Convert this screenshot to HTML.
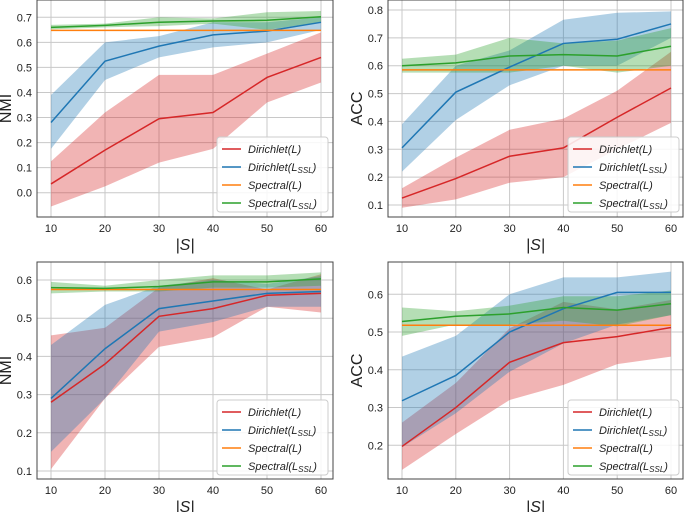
<!DOCTYPE html>
<html><head><meta charset="utf-8"><style>
body{margin:0;background:#fff;}
svg{display:block;font-family:"Liberation Sans","DejaVu Sans",sans-serif;}
</style></head><body>
<svg id="fig" width="685" height="512" viewBox="0 0 685 512" xmlns="http://www.w3.org/2000/svg"></svg>
<script>
const xs=[10,20,30,40,50,60];
// Panel 1 (NMI top)
const p1DirL=[0.035,0.17,0.295,0.32,0.46,0.54], p1DirLlo=[-0.055,0.025,0.12,0.175,0.36,0.44], p1DirLhi=[0.125,0.32,0.47,0.47,0.555,0.64];
const p1DirS=[0.28,0.525,0.585,0.63,0.645,0.68], p1DirSlo=[0.175,0.45,0.54,0.58,0.6,0.65], p1DirShi=[0.39,0.6,0.625,0.68,0.68,0.70];
const p1SpL=[0.648,0.648,0.648,0.648,0.648,0.648];
const p1SpS=[0.66,0.668,0.68,0.685,0.688,0.702], p1SpSlo=[0.652,0.66,0.665,0.675,0.65,0.68], p1SpShi=[0.67,0.675,0.70,0.695,0.72,0.725];
// Panel 2 (ACC top)
const p2DirL=[0.125,0.195,0.275,0.305,0.415,0.52], p2DirLlo=[0.09,0.12,0.18,0.2,0.3,0.395], p2DirLhi=[0.16,0.27,0.37,0.41,0.51,0.65];
const p2DirS=[0.305,0.505,0.595,0.68,0.695,0.75], p2DirSlo=[0.22,0.405,0.53,0.6,0.6,0.7], p2DirShi=[0.39,0.6,0.655,0.765,0.79,0.795];
const p2SpL=[0.585,0.585,0.585,0.585,0.585,0.585];
const p2SpS=[0.6,0.61,0.635,0.64,0.635,0.67], p2SpSlo=[0.575,0.575,0.575,0.6,0.575,0.6], p2SpShi=[0.625,0.64,0.7,0.68,0.69,0.735];
// Panel 3 (NMI bottom)
const p3DirL=[0.28,0.38,0.505,0.525,0.56,0.565], p3DirLlo=[0.105,0.29,0.425,0.45,0.53,0.515], p3DirLhi=[0.455,0.475,0.58,0.605,0.575,0.615];
const p3DirS=[0.29,0.42,0.525,0.545,0.565,0.57], p3DirSlo=[0.15,0.29,0.465,0.49,0.53,0.53], p3DirShi=[0.43,0.535,0.585,0.6,0.59,0.61];
const p3SpL=[0.575,0.575,0.575,0.575,0.575,0.575];
const p3SpS=[0.58,0.578,0.583,0.595,0.595,0.603], p3SpSlo=[0.565,0.57,0.57,0.58,0.58,0.585], p3SpShi=[0.595,0.585,0.6,0.612,0.612,0.62];
// Panel 4 (ACC bottom)
const p4DirL=[0.197,0.30,0.42,0.472,0.488,0.512], p4DirLlo=[0.135,0.23,0.32,0.36,0.415,0.435], p4DirLhi=[0.26,0.365,0.51,0.58,0.56,0.585];
const p4DirS=[0.318,0.385,0.50,0.562,0.605,0.605], p4DirSlo=[0.195,0.285,0.395,0.47,0.52,0.545], p4DirShi=[0.435,0.49,0.6,0.645,0.645,0.66];
const p4SpL=[0.518,0.518,0.518,0.518,0.518,0.518];
const p4SpS=[0.528,0.542,0.548,0.565,0.558,0.575], p4SpSlo=[0.49,0.52,0.52,0.53,0.515,0.545], p4SpShi=[0.565,0.555,0.57,0.595,0.595,0.61];
const p1Ticks=[0.0,0.1,0.2,0.3,0.4,0.5,0.6,0.7];
const p2Ticks=[0.1,0.2,0.3,0.4,0.5,0.6,0.7,0.8];
const p3Ticks=[0.1,0.2,0.3,0.4,0.5,0.6];
const p4Ticks=[0.2,0.3,0.4,0.5,0.6];
const xTicks=[10,20,30,40,50,60];

const NS="http://www.w3.org/2000/svg";
const svg=document.getElementById('fig');
function mk(tag,attrs,parent){const e=document.createElementNS(NS,tag);for(const k in attrs)e.setAttribute(k,attrs[k]);(parent||svg).appendChild(e);return e;}
const C={red:'#d62728',blue:'#1f77b4',orange:'#ff7f0e',green:'#2ca02c'};

const panels=[
 {id:'nmi-top',L:37,R:333,T:0,B:217,x10:51,x60:321,yv1:0.7,yp1:17.3,yv2:0.0,yp2:192.7,ticks:p1Ticks,lab:'NMI',
  s:[[p1DirL,p1DirLlo,p1DirLhi,'red'],[p1DirS,p1DirSlo,p1DirShi,'blue'],[p1SpL,null,null,'orange'],[p1SpS,p1SpSlo,p1SpShi,'green']],leg:[217,137]},
 {id:'acc-top',L:388,R:683,T:0,B:217,x10:402,x60:671,yv1:0.8,yp1:10,yv2:0.1,yp2:205,ticks:p2Ticks,lab:'ACC',
  s:[[p2DirL,p2DirLlo,p2DirLhi,'red'],[p2DirS,p2DirSlo,p2DirShi,'blue'],[p2SpL,null,null,'orange'],[p2SpS,p2SpSlo,p2SpShi,'green']],leg:[568,137]},
 {id:'nmi-bottom',L:37,R:333,T:262,B:479,x10:51,x60:321,yv1:0.6,yp1:280,yv2:0.1,yp2:471,ticks:p3Ticks,lab:'NMI',
  s:[[p3DirL,p3DirLlo,p3DirLhi,'red'],[p3DirS,p3DirSlo,p3DirShi,'blue'],[p3SpL,null,null,'orange'],[p3SpS,p3SpSlo,p3SpShi,'green']],leg:[217,400]},
 {id:'acc-bottom',L:388,R:683,T:262,B:479,x10:402,x60:671,yv1:0.6,yp1:294.3,yv2:0.2,yp2:445.3,ticks:p4Ticks,lab:'ACC',
  s:[[p4DirL,p4DirLlo,p4DirLhi,'red'],[p4DirS,p4DirSlo,p4DirShi,'blue'],[p4SpL,null,null,'orange'],[p4SpS,p4SpSlo,p4SpShi,'green']],leg:[568,400]}
];
const names=['dirichlet-l','dirichlet-lssl','spectral-l','spectral-lssl'];

panels.forEach(p=>{
  const g=mk('g',{});
  
  
  const X=v=>p.x10+(v-10)*(p.x60-p.x10)/50;
  const Y=v=>p.yp2+(v-p.yv2)*(p.yp1-p.yp2)/(p.yv1-p.yv2);
  const cp=mk('clipPath',{id:'cl-'+p.id},g);mk('rect',{x:p.L,y:p.T,width:p.R-p.L,height:p.B-p.T},cp);
  // grid
  xTicks.forEach(t=>{const l=mk('line',{x1:X(t),x2:X(t),y1:p.T,y2:p.B,stroke:'#c8c8c8','stroke-width':1},g);
    
    const tx=mk('text',{x:X(t),y:p.B+15,'text-anchor':'middle','font-size':11,fill:'#222'},g);tx.textContent=t;
    });
  p.ticks.forEach(t=>{const l=mk('line',{x1:p.L,x2:p.R,y1:Y(t),y2:Y(t),stroke:'#c8c8c8','stroke-width':1},g);
    
    const tx=mk('text',{x:p.L-5,y:Y(t)+4,'text-anchor':'end','font-size':11,fill:'#222'},g);tx.textContent=t.toFixed(1);
    });
  const pg=mk('g',{'clip-path':'url(#cl-'+p.id+')'},g);
  p.s.forEach((s,i)=>{
    if(s[1]){let d='';xs.forEach((x,j)=>d+=(j?'L':'M')+X(x)+','+Y(s[2][j]));
      for(let j=xs.length-1;j>=0;j--)d+='L'+X(xs[j])+','+Y(s[1][j]);
      const a=mk('path',{d:d+'Z',fill:C[s[3]],'fill-opacity':0.35,stroke:'none'},pg);
      }
  });
  p.s.forEach((s,i)=>{
    const pts=xs.map((x,j)=>X(x)+','+Y(s[0][j])).join(' ');
    const l=mk('polyline',{points:pts,fill:'none',stroke:C[s[3]],'stroke-width':1.5},pg);
    
  });
  const fr=mk('rect',{x:p.L,y:p.T,width:p.R-p.L,height:p.B-p.T,fill:'none',stroke:'#444','stroke-width':1},g);
  
  const xl=mk('text',{x:(p.L+p.R)/2,y:p.B+33,'text-anchor':'middle','font-size':16,fill:'#222','font-style':'italic'},g);
  xl.textContent='|S|';
  const cy=(p.T+p.B)/2, lx=p.L-26;
  const yl=mk('text',{x:lx,y:cy,'text-anchor':'middle','font-size':16,fill:'#222',transform:'rotate(-90 '+lx+' '+cy+')'},g);
  yl.textContent=p.lab;
  // legend
  const [lgx,lgy]=p.leg;
  const lg=mk('g',{},g);
  mk('rect',{x:lgx,y:lgy,width:111,height:75,rx:3,fill:'#fff','fill-opacity':0.85,stroke:'#ccc'},lg);
  const labs=[['Dirichlet(',"L",')'],['Dirichlet(','L','SSL)'],['Spectral(','L',')'],['Spectral(','L','SSL)']];
  p.s.forEach((s,i)=>{
    const yy=lgy+12+i*18;
    mk('line',{x1:lgx+5,x2:lgx+24,y1:yy,y2:yy,stroke:C[s[3]],'stroke-width':1.5},lg);
    const t=mk('text',{x:lgx+31,y:yy+4,'font-size':11,fill:'#222','font-style':'italic'},lg);
    
    const lb=labs[i];
    if(lb[2]===')'){t.textContent=lb[0]+lb[1]+')';}
    else{t.textContent=lb[0]+lb[1];const sub=mk('tspan',{'font-size':8,dy:2},t);sub.textContent='SSL';
      const cl=mk('tspan',{dy:-2},t);cl.textContent=')';}
  });
});
</script>
</body></html>
